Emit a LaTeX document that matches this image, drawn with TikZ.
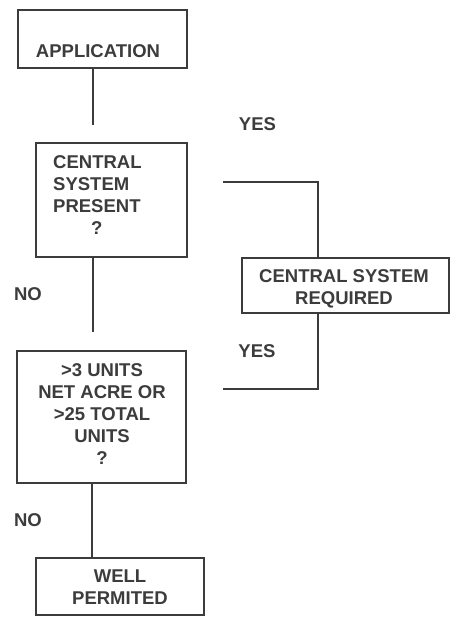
\documentclass[tikz,border=0pt]{standalone}
\usepackage{fontspec}
\setmainfont{Liberation Sans}
\definecolor{ink}{HTML}{3C3C3C}
\begin{document}
\begin{tikzpicture}[x=1bp,y=-1bp,
  box/.style={draw=ink, line width=1.4bp, rectangle, inner sep=0pt},
  txt/.style={font=\fontsize{18.5bp}{22bp}\selectfont\bfseries, text=ink, inner sep=0pt, align=center},
  conn/.style={draw=ink, line width=1.4bp}]
\fill[white] (0,0) rectangle (458,626);
\useasboundingbox (0,0) rectangle (458,626);
% boxes
\node[box, minimum width=169bp, minimum height=58bp] (app) at (102.5,39) {};
\node[box, minimum width=151bp, minimum height=114bp] (cs) at (111.5,200) {};
\node[box, minimum width=207bp, minimum height=55bp] (req) at (345.5,285.5) {};
\node[box, minimum width=169bp, minimum height=132bp] (units) at (101.5,417) {};
\node[box, minimum width=168bp, minimum height=57bp] (well) at (120,586.5) {};
% texts
\node[txt, anchor=north] (tapp) at (98,44.5) {APPLICATION};
\node[txt, anchor=north west, align=left] (tcs) at (53,155) {CENTRAL\\SYSTEM\\PRESENT\\\hspace*{38bp}?};
\node[txt, anchor=north] (treq) at (344,269) {CENTRAL SYSTEM\\REQUIRED};
\node[txt, anchor=north] (tunits) at (102,363) {>3 UNITS\\NET ACRE OR\\>25 TOTAL\\UNITS\\?};
\node[txt, anchor=north] (twell) at (120,570) {WELL\\PERMITED};
\node[txt, anchor=north] (yesA) at (257.5,117) {YES};
\node[txt, anchor=north] (yesB) at (257,344) {YES};
\node[txt, anchor=north] (noA) at (28,287) {NO};
\node[txt, anchor=north] (noB) at (28,513) {NO};
% connectors
\coordinate (appEnd) at (93,125);
\coordinate (csEnd) at (93,332);
\coordinate (yesIn) at (223,182);
\coordinate (yesOut) at (223,389);
\draw[conn] (app.south -| appEnd) -- (appEnd);
\draw[conn] (cs.south -| csEnd) -- (csEnd);
\draw[conn] (yesIn) -| ([xshift=-27.5bp]req.north);
\draw[conn] ([xshift=-27.5bp]req.south) |- (yesOut);
\draw[conn] ([xshift=-9.5bp]units.south) -- ([xshift=-9.5bp]units.south |- well.north);
\end{tikzpicture}
\end{document}
